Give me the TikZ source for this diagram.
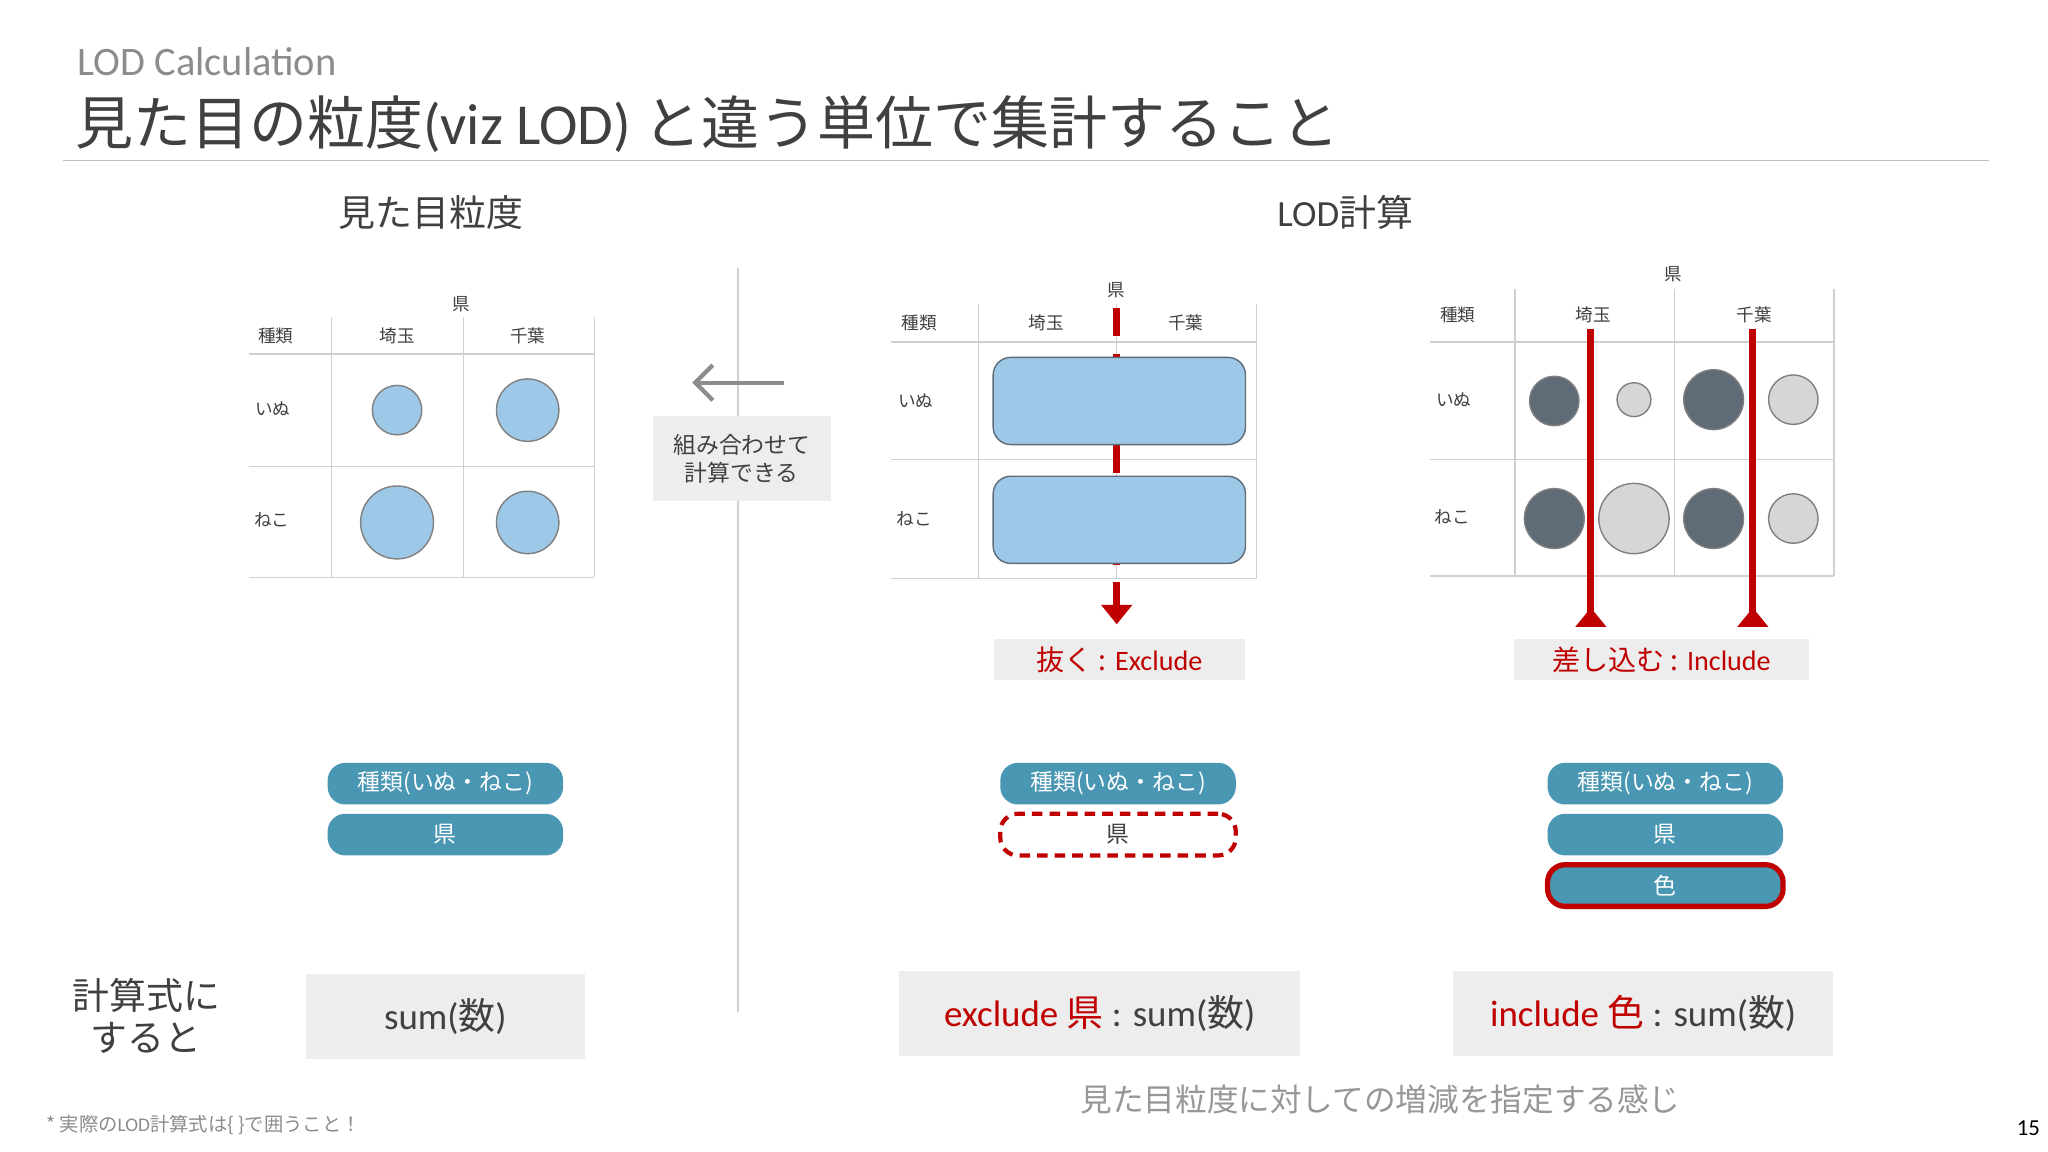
\documentclass[tikz,border=0pt]{standalone}
\usepackage{fontspec}
\setmainfont{Noto Sans CJK JP}
\newfontfamily\lat{Carlito}
\usetikzlibrary{arrows.meta}
\definecolor{ink}{HTML}{404040}
\definecolor{soft}{HTML}{8C8C8C}
\definecolor{grid}{HTML}{D0D0D0}
\definecolor{lodred}{HTML}{C00000}
\definecolor{teal}{HTML}{4A97B3}
\definecolor{blueball}{HTML}{9DC8E8}
\definecolor{darkball}{HTML}{5F6B77}
\definecolor{lightball}{HTML}{D6D6D6}
\definecolor{panel}{HTML}{EDEDED}
\begin{document}
\begin{tikzpicture}[x=0.01306cm,y=-0.01306cm,
  cell/.style={font=\fontsize{5}{6}\selectfont, text=ink},
  pill/.style={draw=none, fill=teal, rounded corners=5pt, minimum width=67pt, minimum height=11.85pt, text=white, font=\fontsize{6.5}{7}\selectfont, inner sep=0pt},
  formula/.style={fill=panel, inner sep=0pt, minimum height=24.1pt, font=\fontsize{10.5}{12}\selectfont, text=ink},
  tag/.style={fill=panel, inner sep=0pt, minimum height=11.5pt, font=\fontsize{8}{9}\selectfont, text=lodred},
  ball/.style={circle, draw=gray, inner sep=0pt}]
\useasboundingbox[fill=white] (0,0) rectangle (1568,882);

% title
\node[anchor=west, text=soft, font=\lat\fontsize{11.5}{13}\selectfont] (t1) at (50,47) {LOD Calculation};
\node[anchor=west, text=ink, font=\fontsize{16.5}{18}\selectfont] (t2) at (48,95) {見た目の粒度{\lat (viz LOD)}\ と違う単位で集計すること};
\draw[grid!80!gray] (48,123) -- (1523,123);

\node[text=ink, font=\fontsize{10.5}{12}\selectfont] (h1) at (330,163) {見た目粒度};
\node[text=ink, font=\fontsize{10.5}{12}\selectfont] (h2) at (1030,163) {{\lat LOD}計算};
\draw[grid] (565,205) -- (565,775);

% combine note
\node[fill=panel, minimum width=50.7pt, minimum height=24.1pt, align=center, text=ink, font=\fontsize{6.5}{8}\selectfont, inner sep=0pt] (comb) at (568,351) {組み合わせて\\計算できる};
\coordinate (a1) at (600,293); \coordinate (a2) at (530,293);
\draw[soft, line width=1.2pt, -{Straight Barb[length=5pt,width=10pt]}] (a1) -- (a2);

% table 1
\draw[grid] (191,271) -- (455,271) (191,357) -- (455,357) (191,442) -- (455,442)
  (254,243) -- (254,442) (355,243) -- (355,442) (455,243) -- (455,442);
\node[cell] (k1) at (353,233) {県};
\node[cell] (a) at (211,257) {種類};
\node[cell] (b) at (304,257) {埼玉};
\node[cell] (c) at (404,257) {千葉};
\node[cell] (d) at (209,313) {いぬ};
\node[cell] (e) at (208,398) {ねこ};
\node[ball, fill=blueball, minimum size=14.07pt] (b11) at (304,314) {};
\node[ball, fill=blueball, minimum size=17.77pt] (b12) at (404,314) {};
\node[ball, fill=blueball, minimum size=20.74pt] (b21) at (304,400) {};
\node[ball, fill=blueball, minimum size=17.77pt] (b22) at (404,400) {};

% table 2
\draw[grid] (682,262) -- (962,262) (682,352) -- (962,352) (682,443) -- (962,443)
  (749,233) -- (749,443) (855,233) -- (855,443) (962,233) -- (962,443);
\node[cell] (k2) at (855,222) {県};
\node[cell] at (704,247) {種類};
\node[cell] at (801,247) {埼玉};
\node[cell] at (908,247) {千葉};
\node[cell] at (701,307) {いぬ};
\node[cell] at (700,397) {ねこ};
\coordinate (ex1) at (855,236); \coordinate (ex2) at (855,478);
\draw[lodred, line width=2pt, dash pattern=on 8pt off 5pt, -{Triangle[length=5.5pt,width=8.5pt]}] (ex1) -- (ex2);
\node[draw=darkball, fill=blueball, rounded corners=5pt, minimum width=71.8pt, minimum height=24.8pt, inner sep=0pt] (r1) at (857,307) {};
\node[draw=darkball, fill=blueball, rounded corners=5pt, minimum width=71.8pt, minimum height=24.8pt, inner sep=0pt] (r2) at (857,398) {};
\node[tag, minimum width=71.5pt] (tx) at (857,505) {抜く : {\lat Exclude}};

% table 3
\draw[grid] (1095,262) -- (1404,262) (1095,352) -- (1404,352) (1095,441) -- (1404,441)
  (1160,221) -- (1160,441) (1282,221) -- (1282,441) (1404,221) -- (1404,441);
\node[cell] (k3) at (1281,210) {県};
\node[cell] at (1116,241) {種類};
\node[cell] at (1220,241) {埼玉};
\node[cell] at (1343,241) {千葉};
\node[cell] at (1113,306) {いぬ};
\node[cell] at (1112,396) {ねこ};
\node[ball, fill=darkball, minimum size=14.07pt] at (1190,307) {};
\node[ball, fill=lightball, minimum size=9.63pt] at (1251,306) {};
\node[ball, fill=darkball, minimum size=17.03pt] at (1312,306) {};
\node[ball, fill=lightball, minimum size=14.07pt] at (1373,306) {};
\node[ball, fill=darkball, minimum size=17.03pt] at (1190,397) {};
\node[ball, fill=lightball, minimum size=20pt] at (1251,397) {};
\node[ball, fill=darkball, minimum size=17.03pt] at (1312,397) {};
\node[ball, fill=lightball, minimum size=14.07pt] at (1373,397) {};
\coordinate (in1a) at (1218,480); \coordinate (in1b) at (1218,252);
\coordinate (in2a) at (1342,480); \coordinate (in2b) at (1342,252);
\draw[lodred, line width=2pt, -{Triangle[reversed,length=5.5pt,width=8.5pt]}] (in1b) -- (in1a);
\draw[lodred, line width=2pt, -{Triangle[reversed,length=5.5pt,width=8.5pt]}] (in2b) -- (in2a);
\node[tag, minimum width=84.1pt] (ti) at (1272,505) {差し込む : {\lat Include}};

% pills
\node[pill] (p11) at (341,600) {種類(いぬ・ねこ)};
\node[pill] (p12) at (341,639) {県};
\node[pill] (p21) at (856,600) {種類(いぬ・ねこ)};
\node[pill, fill=white, draw=lodred, line width=1.2pt, dash pattern=on 3pt off 2pt, text=ink] (p22) at (856,639) {県};
\node[pill] (p31) at (1275,600) {種類(いぬ・ねこ)};
\node[pill] (p32) at (1275,639) {県};
\node[pill, draw=lodred, line width=1.5pt] (p33) at (1275,678) {色};

% formulas
\node[text=ink, align=center, font=\fontsize{10.5}{12}\selectfont] (lbl) at (112,778) {計算式に\\すると};
\node[formula, minimum width=79.2pt] (f1) at (341,778) {{\lat sum(}数{\lat )}};
\node[formula, minimum width=114.1pt] (f2) at (842,776) {{\color{lodred}{\lat exclude} 県} {\lat : sum(}数{\lat )}};
\node[formula, minimum width=108.1pt] (f3) at (1258,776) {{\color{lodred}{\lat include} 色} {\lat : sum(}数{\lat )}};

\node[text=soft!90, font=\fontsize{9}{11}\selectfont] (bot) at (1057,842) {見た目粒度に対しての増減を指定する感じ};
\node[anchor=west, text=soft, font=\fontsize{5.5}{6}\selectfont] (fn) at (26,861) {* 実際の{\lat LOD}計算式は\{ \}で囲うこと！};
\node[text=black, font=\lat\fontsize{6.5}{7}\selectfont] (pg) at (1553,864) {15};
\end{tikzpicture}
\end{document}
